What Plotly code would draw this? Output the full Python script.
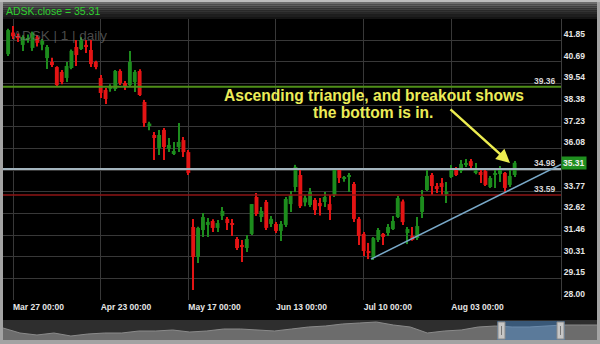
import plotly.graph_objects as go
import pandas as pd

# ---------------- data ----------------
holidays = ["2012-04-06", "2012-05-28", "2012-07-04"]
dates = [d.strftime("%Y-%m-%d") for d in pd.bdate_range("2012-03-26", "2012-08-22")
         if d.strftime("%Y-%m-%d") not in holidays]

opens = [41.10, 42.25, 42.06, 41.59, 41.90, 41.43, 42.00, 41.60, 40.89, 40.68,
         40.41, 40.15, 39.83, 40.36, 41.48, 41.37, 41.59, 41.32, 40.68, 39.83,
         39.19, 39.25, 39.24, 40.20, 39.56, 39.45, 39.61, 40.20, 38.55, 37.30,
         36.79, 36.10, 37.06, 36.05, 35.78, 36.15, 36.52, 35.88, 31.89, 30.29,
         31.73, 32.00, 32.21, 31.84, 32.48, 32.32, 32.10, 31.25, 30.93, 30.77,
         31.52, 33.49, 32.42, 33.22, 32.05, 32.05, 31.68, 32.00, 33.11, 34.02,
         34.66, 33.20, 33.06, 33.33, 33.17, 33.22, 33.11, 33.59, 34.98, 34.45,
         34.55, 34.18, 32.32, 31.52, 30.61, 30.24, 31.20, 31.52, 31.57, 31.78,
         32.42, 33.25, 31.57, 31.41, 31.30, 32.69, 33.86, 34.66, 34.07, 34.23,
         33.70, 34.55, 35.03, 34.87, 35.20, 35.40, 34.80, 34.82, 34.87, 34.02,
         34.66, 34.71, 34.77, 34.13, 34.66]
highs = [42.45, 42.60, 42.20, 42.10, 42.15, 42.30, 42.10, 41.90, 41.59, 40.90,
         40.45, 40.25, 40.68, 41.35, 41.85, 42.00, 41.85, 41.85, 40.75, 39.99,
         39.30, 39.50, 40.25, 40.30, 39.67, 41.27, 40.25, 40.30, 38.66, 37.50,
         36.95, 37.06, 37.16, 36.63, 36.42, 37.43, 36.68, 35.99, 32.32, 31.90,
         32.64, 32.37, 32.30, 32.26, 32.95, 32.42, 32.32, 31.36, 31.20, 31.46,
         33.11, 33.70, 32.95, 33.33, 32.48, 32.16, 32.21, 33.49, 33.81, 35.20,
         35.00, 33.60, 33.97, 33.43, 33.43, 33.75, 33.59, 35.03, 35.03, 34.60,
         34.77, 34.29, 32.42, 31.62, 31.04, 31.36, 31.84, 31.57, 32.05, 32.48,
         33.54, 33.35, 31.89, 31.89, 32.42, 33.86, 34.93, 34.77, 34.23, 34.50,
         34.29, 35.19, 35.09, 35.46, 35.51, 35.51, 35.30, 35.03, 34.98, 34.60,
         34.98, 35.14, 34.82, 35.03, 35.41]
lows = [41.00, 41.90, 41.75, 41.27, 41.70, 41.27, 41.50, 41.30, 40.31, 40.41,
        39.35, 39.50, 39.61, 40.30, 40.47, 41.32, 41.16, 40.41, 40.30, 38.76,
        38.44, 39.10, 39.13, 39.45, 39.19, 39.35, 39.08, 38.87, 37.22, 37.05,
        35.46, 35.73, 35.46, 35.88, 35.73, 35.88, 35.62, 34.66, 28.53, 29.97,
        31.36, 31.36, 31.62, 31.62, 32.26, 31.73, 31.41, 30.66, 30.02, 30.56,
        31.46, 32.48, 32.16, 31.73, 31.89, 31.57, 31.14, 31.89, 32.69, 33.75,
        32.90, 33.00, 32.95, 32.53, 32.50, 32.95, 32.26, 33.49, 34.23, 34.30,
        33.75, 32.16, 30.93, 30.34, 30.18, 30.13, 31.09, 30.93, 31.41, 31.73,
        32.37, 32.00, 30.98, 31.15, 31.20, 32.37, 33.81, 33.59, 33.70, 33.59,
        33.17, 34.50, 34.60, 34.77, 35.09, 34.98, 34.70, 34.23, 34.07, 33.97,
        33.97, 34.29, 33.75, 34.02, 34.55]
closes = [42.38, 42.05, 41.95, 42.01, 41.95, 42.22, 41.70, 41.80, 41.48, 40.52,
          39.45, 39.61, 40.47, 41.27, 41.05, 41.85, 41.48, 40.57, 40.41, 39.03,
          38.71, 39.40, 40.20, 39.56, 39.35, 40.68, 40.15, 38.92, 37.43, 37.40,
          36.63, 36.79, 36.15, 36.26, 35.94, 36.42, 35.88, 34.77, 30.29, 31.84,
          32.42, 32.16, 31.84, 32.10, 32.74, 32.10, 32.00, 30.77, 30.82, 31.25,
          33.11, 32.58, 32.74, 31.84, 32.32, 31.68, 32.05, 33.38, 33.59, 35.09,
          33.00, 33.45, 33.75, 32.79, 33.00, 33.49, 32.79, 34.98, 34.50, 34.50,
          34.66, 32.32, 31.41, 30.61, 30.50, 31.30, 31.73, 31.36, 31.89, 32.21,
          33.43, 32.15, 31.78, 31.20, 31.94, 33.49, 34.61, 34.07, 33.91, 34.02,
          33.75, 34.98, 34.66, 35.25, 35.30, 35.14, 34.90, 34.66, 34.13, 34.50,
          34.71, 35.03, 33.97, 34.61, 35.31]

x_tick_dates = ["2012-03-27", "2012-04-23", "2012-05-17", "2012-06-13", "2012-07-10", "2012-08-03"]
x_tick_labels = ["Mar 27 00:00", "Apr 23 00:00", "May 17 00:00", "Jun 13 00:00", "Jul 10 00:00", "Aug 03 00:00"]
y_ticks = [28.00, 29.15, 30.31, 31.46, 32.62, 33.77, 34.92, 36.08, 37.23, 38.38, 39.54, 40.69, 41.85]

levels = [39.36, 34.98, 33.59]
level_colors = ["#4f8f18", "#a3b4be", "#8e1414"]
level_widths = [2, 2, 1.5]
trend_pos = [74.5, 113.52]
trend_vals = [30.18, 35.22]
last_close = 35.31

# navigator (full-history overview) levels
nav_level = [12, 7, 5, 7, 4, 6, 7, 7, 9, 9, 10, 8, 9, 11, 11, 10, 9, 11, 13, 14,
             16, 17, 18, 15, 13, 7, 9, 10, 13, 14, 13, 13, 14, 15, 15, 15]

# ---------------- layout helpers ----------------
W, H = 600, 344
def px(x):
    return x / W
def py(y):
    return 1 - y / H

FONT = "Liberation Sans"
UP, DOWN = "#1d8c1d", "#e31414"

colors = [UP if c >= o else DOWN for o, c in zip(opens, closes)]
body_base = [min(o, c) for o, c in zip(opens, closes)]
body_len = [max(abs(c - o), 0.06) for o, c in zip(opens, closes)]
wick_len = [h - l for h, l in zip(highs, lows)]

fig = go.Figure()
# wicks
fig.add_trace(go.Bar(
    x=dates, y=wick_len, base=lows, width=0.22, marker=dict(color=colors, line=dict(width=0)),
    hoverinfo="skip", showlegend=False,
))
# bodies
fig.add_trace(go.Bar(
    x=dates, y=body_len, base=body_base, width=0.8, marker=dict(color=colors, line=dict(width=0)),
    hoverinfo="skip", showlegend=False,
))
fig.add_trace(go.Scatter(
    x=list(range(len(nav_level))), y=nav_level, xaxis="x2", yaxis="y2",
    mode="lines", fill="tozeroy", line=dict(color="#8a8a8a", width=1),
    fillcolor="#6c6c6c", hoverinfo="skip", showlegend=False,
))

shapes = []
# navigator background
shapes.append(dict(type="rect", xref="paper", yref="paper", x0=px(3), x1=px(597),
                   y0=py(340), y1=py(320), fillcolor="#2e2e2e", line=dict(width=0), layer="below"))
# level lines
for v, c, w in zip(levels, level_colors, level_widths):
    shapes.append(dict(type="line", xref="x domain", yref="y", x0=0, x1=1, y0=v, y1=v,
                       line=dict(color=c, width=w), layer="above"))
# trend line
shapes.append(dict(type="line", xref="x", yref="y", x0=trend_pos[0], x1=trend_pos[1],
                   y0=trend_vals[0], y1=trend_vals[1], line=dict(color="#79a9c9", width=1.5),
                   layer="above"))
# navigator window and handles
shapes.append(dict(type="rect", xref="paper", yref="paper", x0=px(497), x1=px(565),
                   y0=py(340), y1=py(321), fillcolor="rgba(70,140,210,0.45)",
                   line=dict(width=0), layer="above"))
for hx in (498, 557):
    shapes.append(dict(type="rect", xref="paper", yref="paper", x0=px(hx), x1=px(hx + 7),
                       y0=py(339), y1=py(322), fillcolor="#c6c6c6",
                       line=dict(color="#8a8a8a", width=1), layer="above"))
    shapes.append(dict(type="line", xref="paper", yref="paper", x0=px(hx + 3.5), x1=px(hx + 3.5),
                       y0=py(335), y1=py(326), line=dict(color="#777777", width=1), layer="above"))
# title bar gradient
grad = ["#6e6e6e", "#5e5e5e", "#4e4e4e", "#404040", "#333333", "#282828", "#1e1e1e", "#151515"]
for k, col in enumerate(grad):
    y0 = 2 + k * 17 / len(grad)
    y1 = 2 + (k + 1) * 17 / len(grad)
    shapes.append(dict(type="rect", xref="paper", yref="paper", x0=0, x1=1,
                       y0=py(y1), y1=py(y0), fillcolor=col, line=dict(width=0), layer="above"))
# outer frame
frame = "#a3a3a3"
shapes.append(dict(type="rect", xref="paper", yref="paper", x0=0, x1=1, y0=py(2), y1=1,
                   fillcolor="#bdbdbd", line=dict(width=0), layer="above"))
shapes.append(dict(type="rect", xref="paper", yref="paper", x0=0, x1=px(3), y0=0, y1=py(2),
                   fillcolor=frame, line=dict(width=0), layer="above"))
shapes.append(dict(type="rect", xref="paper", yref="paper", x0=px(597), x1=1, y0=0, y1=py(2),
                   fillcolor=frame, line=dict(width=0), layer="above"))
shapes.append(dict(type="rect", xref="paper", yref="paper", x0=0, x1=1, y0=0, y1=py(340),
                   fillcolor=frame, line=dict(width=0), layer="above"))

annotations = []
annotations.append(dict(text="ADSK.close = 35.31", xref="paper", yref="paper", x=px(4), y=py(11),
                        xanchor="left", yanchor="middle", showarrow=False,
                        font=dict(family=FONT, size=10.5, color="#2fd12f")))
annotations.append(dict(text="ADSK | 1 | daily", xref="paper", yref="paper", x=px(11), y=py(36),
                        xanchor="left", yanchor="middle", showarrow=False,
                        font=dict(family=FONT, size=13.5, color="rgba(125,125,125,0.6)")))
for v in levels:
    annotations.append(dict(text=f"{v:.2f}", xref="paper", yref="y", x=px(557), y=v,
                            xanchor="right", yanchor="bottom", showarrow=False, borderpad=0,
                            font=dict(family=FONT, size=8.5, color="#d6d6d6", weight="bold")))
annotations.append(dict(text=f"{last_close:.2f}", xref="paper", yref="y", x=px(561), y=last_close,
                        xanchor="left", yanchor="middle", showarrow=False, bgcolor="#1f8f1f",
                        borderpad=1,
                        font=dict(family=FONT, size=8.5, color="#f0f0f0", weight="bold")))
annotations.append(dict(text="Ascending triangle, and breakout shows", xref="paper", yref="paper",
                        x=px(373.5), y=py(95.7), xanchor="center", yanchor="middle", showarrow=False,
                        font=dict(family=FONT, size=15.6, color="#ecec58", weight="bold")))
annotations.append(dict(text="the bottom is in.", xref="paper", yref="paper",
                        x=px(373), y=py(112.7), xanchor="center", yanchor="middle", showarrow=False,
                        font=dict(family=FONT, size=15.6, color="#ecec58", weight="bold")))
annotations.append(dict(text="", xref="paper", yref="paper", x=px(510), y=py(163),
                        ax=-61, ay=-55, showarrow=True, arrowhead=2, arrowsize=1.1,
                        arrowwidth=2.5, arrowcolor="#ecec50"))

fig.update_layout(
    width=W, height=H, margin=dict(l=0, r=0, t=0, b=0),
    paper_bgcolor="#000000", plot_bgcolor="rgba(0,0,0,0)",
    hovermode=False, showlegend=False, barmode="overlay",
    shapes=shapes, annotations=annotations,
    xaxis=dict(domain=[px(3), px(561)], type="category", range=[-1.053, 113.52],
               tickmode="array", tickvals=x_tick_dates, ticktext=x_tick_labels,
               ticklabelposition="outside right", ticks="",
               tickfont=dict(family=FONT, size=8.5, color="#e6e6e6", weight="bold"),
               showgrid=True, gridcolor="#383838", gridwidth=1, zeroline=False,
               showline=False, automargin=False, fixedrange=True),
    yaxis=dict(domain=[py(300), py(19)], range=[28.0, 28.0 + 281 / 18.77], side="right",
               tickmode="array", tickvals=y_ticks, ticktext=[f"{t:.2f}" for t in y_ticks],
               ticklabelposition="outside top", ticks="",
               tickfont=dict(family=FONT, size=8.5, color="#e6e6e6", weight="bold"),
               showgrid=True, gridcolor="#383838", gridwidth=1, zeroline=False,
               showline=True, linecolor="#3c3c3c", linewidth=1, automargin=False,
               fixedrange=True),
    xaxis2=dict(domain=[px(3), px(597)], anchor="y2", range=[0, len(nav_level) - 1],
                visible=False, fixedrange=True),
    yaxis2=dict(domain=[py(340), py(320)], anchor="x2", range=[0, 20],
                visible=False, fixedrange=True),
)

fig.write_html("out.html")
